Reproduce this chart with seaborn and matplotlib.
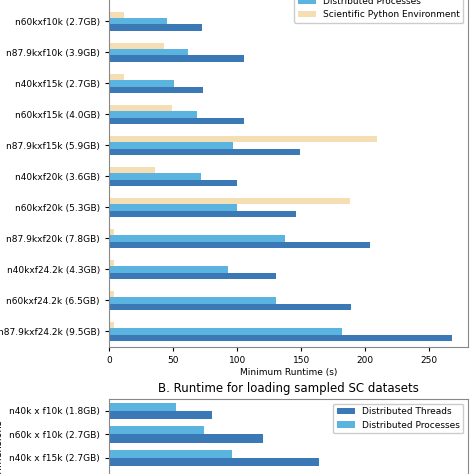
import matplotlib
matplotlib.use("Agg")
import matplotlib.pyplot as plt
import seaborn as sns
import pandas as pd

datasets = ["n40kxf10k (1.8GB)", "n60kxf10k (2.7GB)", "n87.9kxf10k (3.9GB)", "n40kxf15k (2.7GB)",
            "n60kxf15k (4.0GB)", "n87.9kxf15k (5.9GB)", "n40kxf20k (3.6GB)", "n60kxf20k (5.3GB)",
            "n87.9kxf20k (7.8GB)", "n40kxf24.2k (4.3GB)", "n60kxf24.2k (6.5GB)", "n87.9kxf24.2k (9.5GB)"]
threads = [50, 72.5, 105, 73, 105, 149, 100, 146, 204, 130, 189, 268]
processes = [30, 45, 62, 51, 69, 97, 72, 100, 137, 93, 130, 182]
scientific = [8, 12, 43, 12, 49, 209, 36, 188, 4, 4, 4, 4]

sampled = ["n40k x f10k (1.8GB)", "n60k x f10k (2.7GB)", "n40k x f15k (2.7GB)"]
s_threads = [80, 120, 164]
s_processes = [52, 74, 96]

T, P, S = "Distributed Threads", "Distributed Processes", "Scientific Python Environment"
colors = {T: "#3b78b6", P: "#5bb3e0", S: "#f5deb3"}

df1 = pd.DataFrame({"ds": datasets * 3, "v": scientific + processes + threads,
                    "m": [S] * 12 + [P] * 12 + [T] * 12})
df2 = pd.DataFrame({"ds": sampled * 2, "v": s_processes + s_threads, "m": [P] * 3 + [T] * 3})

fig = plt.figure(figsize=(4.74, 4.74), dpi=100)
ax1 = fig.add_axes([0.23, 0.268, 0.757, 0.785])
ax2 = fig.add_axes([0.23, -0.14, 0.757, 0.298])

sns.barplot(data=df1, y="ds", x="v", hue="m", hue_order=[S, P, T], palette=colors,
            orient="h", width=0.6, ax=ax1, saturation=1)
sns.barplot(data=df2, y="ds", x="v", hue="m", hue_order=[P, T], palette=colors,
            orient="h", width=0.7, ax=ax2, saturation=1)

for ax in (ax1, ax2):
    ax.tick_params(labelsize=6.5, length=3)
    ax.set_ylabel("Dataset Dimensions", fontsize=7, labelpad=4)
    for s in ax.spines.values():
        s.set_color("#888888")
ax1.set_xlabel("Minimum Runtime (s)", fontsize=6.5, labelpad=2)
ax1.set_xlim(0, 280)
ax1.set_ylim(11.5, -0.5)
ax2.set_xlim(0, 280)
ax2.set_ylim(5.5, -0.5)
ax2.set_xlabel("")
ax2.set_title("B. Runtime for loading sampled SC datasets", fontsize=8.5, pad=5)

h, l = ax1.get_legend_handles_labels()
d = dict(zip(l, h))
ax1.legend([d[T], d[P], d[S]], [T, P, S], loc="upper right", fontsize=6.5, framealpha=1)
h, l = ax2.get_legend_handles_labels()
d = dict(zip(l, h))
ax2.legend([d[T], d[P]], [T, P], loc="upper right", fontsize=6.5, framealpha=1)

fig.savefig("out.png", dpi=100)
